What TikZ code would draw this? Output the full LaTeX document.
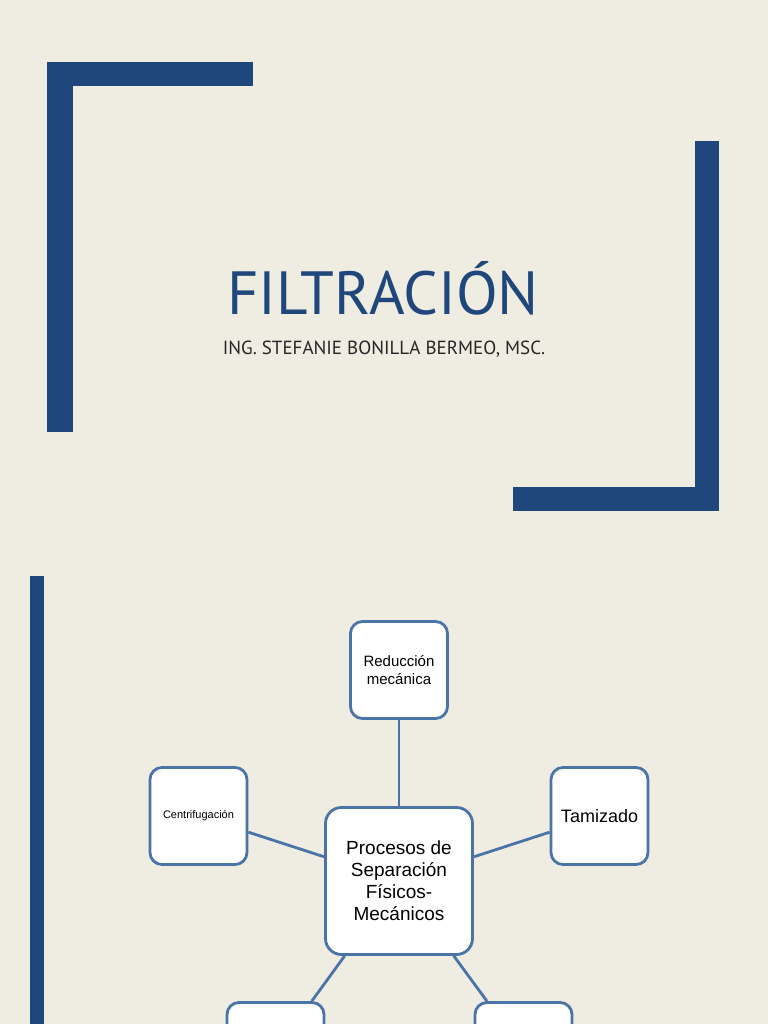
\documentclass[tikz,border=0pt]{standalone}
\usepackage{fontspec}
\setmainfont{PT Sans}
\newfontfamily\boxfont{Liberation Sans}
\definecolor{paper}{HTML}{EFECE1}
\definecolor{navy}{HTML}{1F477B}
\definecolor{edge}{HTML}{4A74A8}
\begin{document}
\begin{tikzpicture}[x=1pt, y=-1pt,
  bar/.style={fill=navy, draw=none},
  box/.style={draw=edge, line width=2.8pt, fill=white, rounded corners=12pt, minimum width=97pt, minimum height=97pt, align=center, inner sep=2pt, font=\boxfont},
  link/.style={draw=edge, line width=2.8pt}]
	\fill[paper] (0,0) rectangle (768,1024);
	\useasboundingbox (0,0) rectangle (768,1024);
	% brackets
	\fill[bar] (47,62) rectangle (73,432);
	\fill[bar] (47,62) rectangle (253,86);
	\fill[bar] (695,141) rectangle (719,511);
	\fill[bar] (513,487) rectangle (719,511);
	\fill[bar] (30,576) rectangle (44,1024);
	% titles
	\node[text=navy, font=\fontsize{61}{66}\selectfont] (title) at (383,288) {FILTRACIÓN};
	\node[text=black!85, font=\fontsize{19}{22}\selectfont] (sub) at (384,349) {ING. STEFANIE BONILLA BERMEO, MSC.};
	% diagram
	\node[box, font=\boxfont\fontsize{19}{22}\selectfont, minimum width=147pt, minimum height=147pt, rounded corners=16pt] (proc) at (399,881) {Procesos de\\Separación\\Físicos-\\Mecánicos};
	\node[box, font=\boxfont\fontsize{15}{18}\selectfont] (red) at (399,670) {Reducción\\mecánica};
	\node[box, font=\boxfont\fontsize{11}{13}\selectfont] (cent) at (198.5,816) {Centrifugación};
	\node[box, font=\boxfont\fontsize{18}{21}\selectfont] (tam) at (599.5,816) {Tamizado};
	\node[box] (left) at (275.5,1051) {};
	\node[box] (right) at (523.5,1051) {};
	\draw[link] (red) -- (proc);
	\draw[link] (cent) -- (proc);
	\draw[link] (tam) -- (proc);
	\draw[link] (left) -- (proc);
	\draw[link] (right) -- (proc);
\end{tikzpicture}
\end{document}
